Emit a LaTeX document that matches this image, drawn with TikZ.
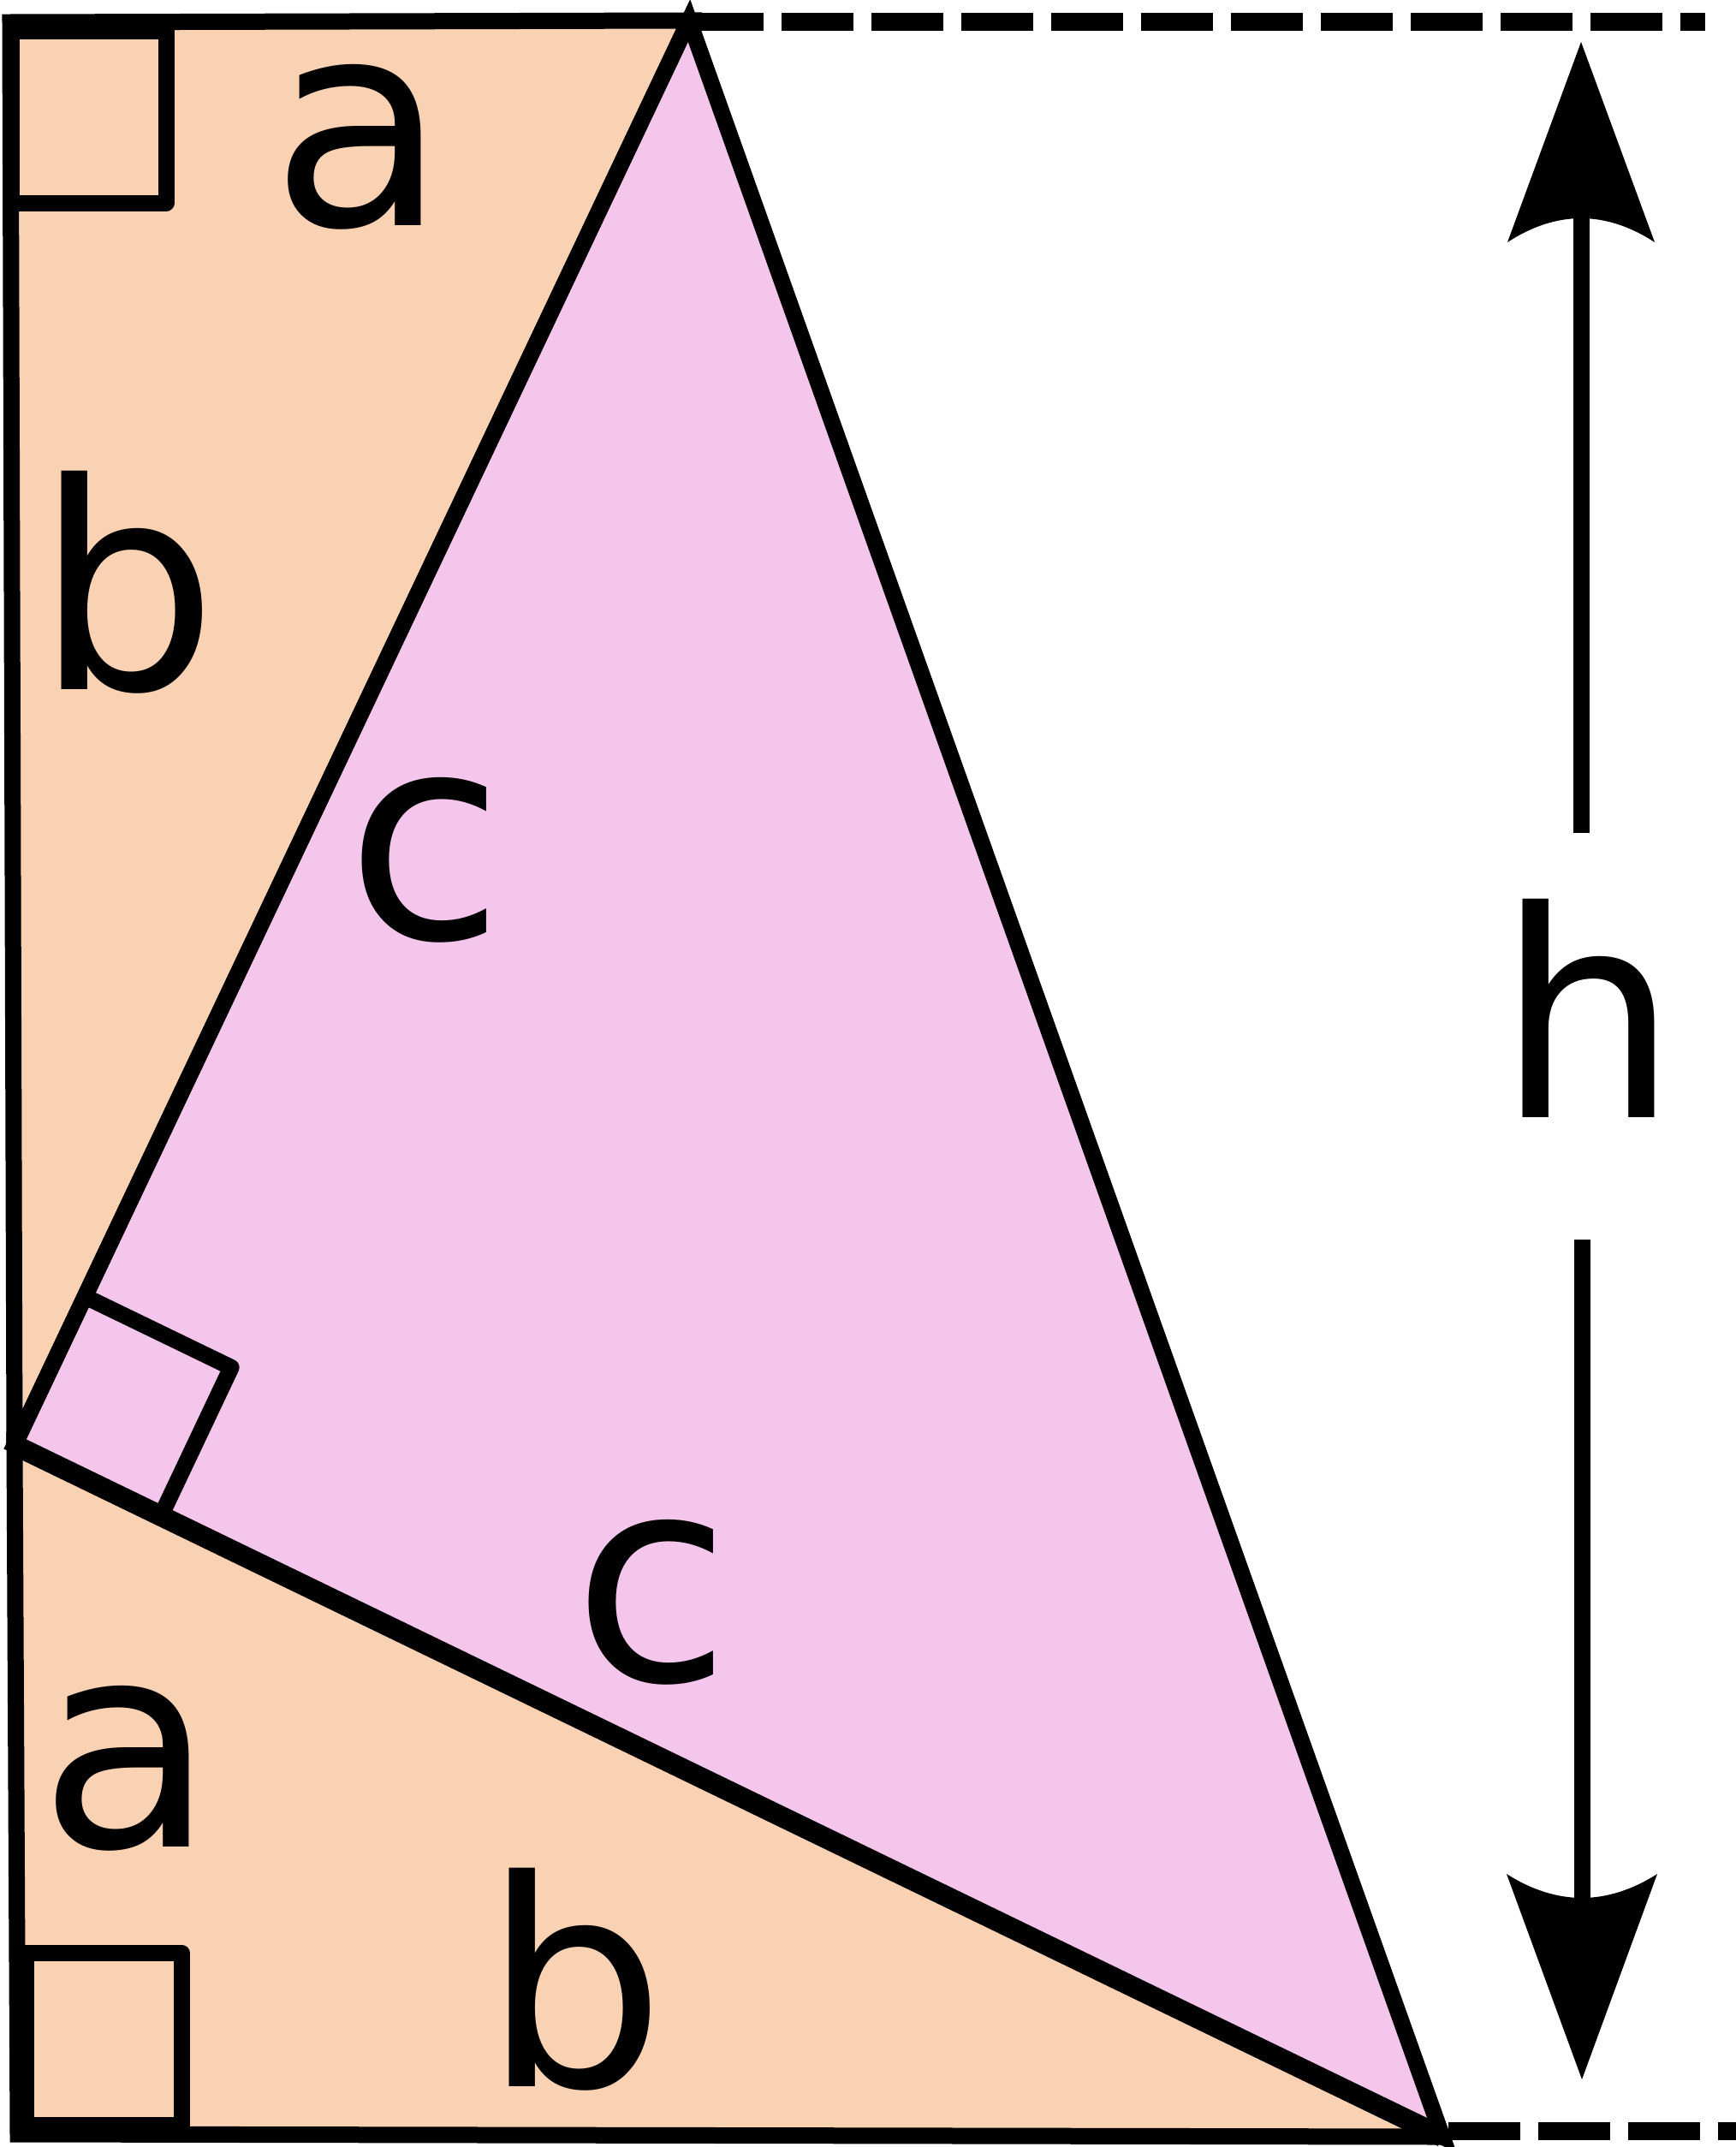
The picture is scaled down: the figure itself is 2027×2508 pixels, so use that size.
\documentclass[tikz,border=0pt]{standalone}
\usepackage{fontspec}
\usetikzlibrary{calc}
\setmainfont{DejaVu Sans}
\definecolor{peach}{HTML}{F9D2B3}
\definecolor{pinkf}{HTML}{F4C6EC}
\begin{document}
\begin{tikzpicture}[x=1pt,y=-1pt,
  edge/.style={line width=19pt, line join=miter, miter limit=3},
  pedge/.style={line width=19pt, line join=miter, miter limit=10},
  sq/.style={line width=19pt, line join=round},
  lbl/.style={inner sep=0pt, anchor=base, font=\fontsize{336}{400}\selectfont},
  dashline/.style={line width=21pt, dash pattern=on 84pt off 21pt},
  shaft/.style={line width=19pt},
  head/.style={fill=black, draw=none}]
\useasboundingbox (0,0) rectangle (2027,2508);
% vertices
\coordinate (A) at (12,26);
\coordinate (B) at (805,24);
\coordinate (M) at (17,1688);
\coordinate (C) at (21,2493);
\coordinate (D) at (1685,2496);
% fills
\fill[pinkf] (B) -- (M) -- (D) -- cycle;
\fill[peach] (A) -- (B) -- (M) -- cycle;
\fill[peach] (M) -- (C) -- (D) -- cycle;
% right-angle marks
\coordinate (S1a) at (13,36);
\coordinate (S1b) at (194,237);
\draw[sq] (S1a) rectangle (S1b);
\coordinate (S2a) at (30,2281);
\coordinate (S2b) at (212,2482);
\draw[sq] (S2a) rectangle (S2b);
\coordinate (Q1) at ($(M)!192pt!(B)$);
\coordinate (Q3) at ($(M)!190pt!(D)$);
\coordinate (Q2) at ($(Q1)+(Q3)-(M)$);
\draw[sq] (Q1) -- (Q2) -- (Q3);
% triangle outlines
\draw[edge] (A) -- (B) -- (M) -- cycle;
\draw[edge] (M) -- (C) -- (D) -- cycle;
\draw[pedge] (B) -- (M) -- (D) -- cycle;
\draw[line width=24pt] (M) -- (D);
% dashed guide lines
\coordinate (T1) at (808,25);
\coordinate (T2) at (1992,25);
\draw[dashline] (T1) -- (T2);
\coordinate (U1) at (1692,2489);
\coordinate (U2) at (2035,2489);
\draw[dashline] (U1) -- (U2);
% height arrow
\coordinate (H1) at (1847.5,240);
\coordinate (H2) at (1847.5,973);
\coordinate (H3) at (1848,1448);
\coordinate (H4) at (1848,2235);
\draw[shaft] (H1) -- (H2);
\draw[shaft] (H3) -- (H4);
\fill[head] (1847,49) -- (1933,283) .. controls (1875.7,245.7) and (1818.3,245.7) .. (1761,283) -- cycle;
\fill[head] (1848,2429) -- (1936,2189) .. controls (1877.3,2226.3) and (1818.7,2226.3) .. (1760,2189) -- cycle;
% labels
\node[lbl] (la1) at (419,263) {a};
\node[lbl] (lb1) at (148,805) {b};
\node[lbl] (lc1) at (497,1096) {c};
\node[lbl] (lh) at (1855,1305) {h};
\node[lbl] (lc2) at (762,1963) {c};
\node[lbl] (la2) at (148,2157) {a};
\node[lbl] (lb2) at (671,2437) {b};
\end{tikzpicture}
\end{document}
